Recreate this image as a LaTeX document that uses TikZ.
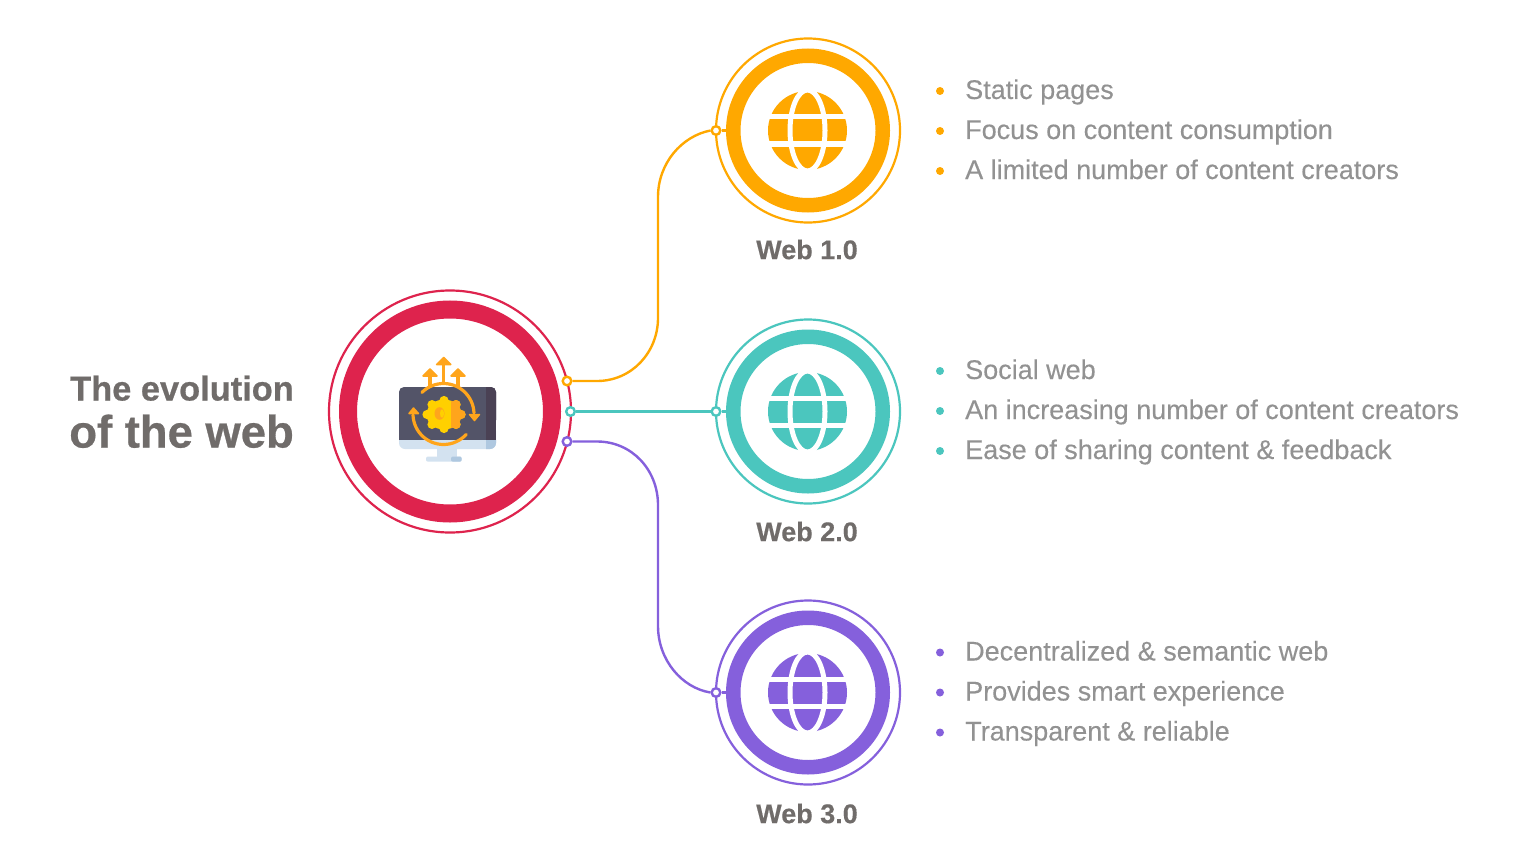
\documentclass[tikz,border=0pt]{standalone}
\usepackage{fontspec}
\setmainfont{Liberation Sans}
\definecolor{cOr}{HTML}{FFA800}
\definecolor{cTe}{HTML}{4BC6BE}
\definecolor{cPu}{HTML}{8560DC}
\definecolor{cRe}{HTML}{DE234D}
\definecolor{cTitle}{HTML}{706C6A}
\definecolor{cBody}{HTML}{929292}
\definecolor{cDark}{HTML}{535468}
\definecolor{cDarker}{HTML}{4A4154}
\definecolor{cBez}{HTML}{D3E2F0}
\definecolor{cBez2}{HTML}{AFC8E0}
\definecolor{cYel}{HTML}{FFD000}
\definecolor{cArr}{HTML}{FFA51C}
\tikzset{
 hub/.style={circle,minimum size=#1,inner sep=0,outer sep=0},
 dot/.style={circle,draw=#1,fill=white,line width=2.4pt,minimum size=8.6pt,inner sep=0},
 blt/.style={circle,fill=#1,minimum size=8pt,inner sep=0},
 item/.style={anchor=base west,inner sep=0,text=cBody,font=\fontsize{27}{27}\selectfont\addfontfeature{FakeBold=0.2}},
 wlabel/.style={inner sep=0,text=cTitle,font=\bfseries\fontsize{27}{27}\selectfont\addfontfeature{FakeBold=0.4}},
 link/.style={draw=#1,line width=2.4pt},
 arrowline/.style={draw=cArr,line width=3.2pt},
 tip/.style={fill=cArr,draw=cArr,line width=1.5pt,line join=round}
}
\newcommand{\webring}[6]{%
 \node[hub=184pt,draw=#2,line width=2.2pt,fill=white] (#1) at (#3,#4) {};
 \node[hub=149.5pt,draw=#2,line width=14.5pt] (#1in) at (#3,#4) {};
 \begin{scope}[shift={(#3,#4)}]
  \fill[#2] (-0.5,0) circle[radius=39.5];
  \draw[white,line width=5pt] (-41,-13.5) -- (40,-13.5) (-41,13.5) -- (40,13.5);
  \draw[white,line width=5pt] (-0.5,0) ellipse[x radius=17.5,y radius=40.5];
 \end{scope}
 \node[wlabel] (#1lab) at (#3-1,#6) {#5};
}
\newcommand{\geartooth}[1]{%
 \foreach \a in {0,45,...,315}{\fill[#1] ({444+17*cos(\a)},{414.5+14*sin(\a)}) circle[radius=4.6];}
 \fill[#1] (444,414.5) ellipse[x radius=17.5,y radius=15];
}
\begin{document}
\begin{tikzpicture}[x=1pt,y=-1pt]
\useasboundingbox (0,0) rectangle (1536,864);
\fill[white] (0,0) rectangle (1536,864);

\webring{wa}{cOr}{808}{130.5}{Web 1.0}{249.5}
\webring{wb}{cTe}{808}{411.5}{Web 2.0}{531.5}
\webring{wc}{cPu}{808}{692.5}{Web 3.0}{813.5}

% hub
\node[hub=242pt,draw=cRe,line width=2.2pt,fill=white] (hubouter) at (450,411.5) {};
\node[hub=204pt,draw=cRe,line width=18pt] (hubinner) at (450,411.5) {};

\node[dot=cOr] (oa) at (567,381) {};
\node[dot=cTe] (ob) at (570.5,411.5) {};
\node[dot=cPu] (oc) at (567,441.5) {};
\node[dot=cOr] (ia) at (716,130.5) {};
\node[dot=cTe] (ib) at (716,411.5) {};
\node[dot=cPu] (ic) at (716,692.5) {};

\draw[link=cOr] (oa.east) -- (597,381) .. controls (632,381) and (658,352) .. (658,318) -- (658,197) .. controls (658,163) and (682,136) .. (ia.west);
\draw[link=cTe] (ob.east) -- (ib.west);
\draw[link=cPu] (oc.east) -- (597,441.5) .. controls (632,441.5) and (658,470) .. (658,505) -- (658,626) .. controls (658,660) and (682,688) .. (ic.west);
\draw[link=cOr] (ia.east) -- (wain.west);
\draw[link=cTe] (ib.east) -- (wbin.west);
\draw[link=cPu] (ic.east) -- (wcin.west);

% monitor icon
\fill[cBez,rounded corners=6pt] (399,425) rectangle (496,449);
\begin{scope}
 \clip (486,440) rectangle (497,450);
 \fill[cBez2,rounded corners=6pt] (399,425) rectangle (496,449);
\end{scope}
\fill[cDark,rounded corners=5pt] (399,387) rectangle (496,425);
\fill[cDark] (399,410) rectangle (496,440);
\begin{scope}
 \clip (486,385) rectangle (497,441);
 \fill[cDarker,rounded corners=5pt] (399,387) rectangle (496,425);
 \fill[cDarker] (399,410) rectangle (496,440);
\end{scope}
\fill[cBez] (436.7,449) rectangle (456.7,457);
\fill[cBez,rounded corners=2pt] (426,456.5) rectangle (461.7,461.7);
\fill[cBez2,rounded corners=2pt] (451,456.5) rectangle (461.7,461.7);
% gear
\geartooth{cYel}
\begin{scope}
 \clip (451,390) rectangle (470,438);
 \geartooth{cArr}
\end{scope}
\fill[cArr] (439.5,413.5) ellipse[x radius=5,y radius=6.3];
\fill[cYel] (442,413.5) ellipse[x radius=2,y radius=4.2];
% circular arrows
\draw[arrowline,line cap=round] plot[smooth,domain=-135:-2,samples=24] ({443.5+30.5*cos(\x)},{414+30.5*sin(\x)});
\fill[tip] (469.5,414.5) -- (479.5,414.5) -- (474.5,420.5) -- cycle;
\draw[arrowline,line cap=round] plot[smooth,domain=42:178,samples=24] ({443.5+30.5*cos(\x)},{414+30.5*sin(\x)});
\fill[tip] (409,413.5) -- (418.5,413.5) -- (413.5,408) -- cycle;
% up arrows
\draw[arrowline] (443.7,364) -- (443.7,382);
\fill[tip] (443.7,357.5) -- (450.8,364.5) -- (436.6,364.5) -- cycle;
\draw[arrowline] (430,376) -- (430,386.5);
\fill[tip] (430,369) -- (437,376) -- (423,376) -- cycle;
\draw[arrowline] (458,376) -- (458,386.5);
\fill[tip] (458,369) -- (465,376) -- (451,376) -- cycle;

% title
\node[anchor=base east,inner sep=0,text=cTitle,font=\bfseries\fontsize{34.4}{34}\selectfont\addfontfeature{FakeBold=0.6}] (t1) at (294,400.5) {The evolution};
\node[anchor=base east,inner sep=0,text=cTitle,font=\bfseries\fontsize{45.4}{45}\selectfont\addfontfeature{FakeBold=0.6}] (t2) at (294,447.5) {of the web};

% bullet lists
\foreach \n/\c/\y/\t in {
 a1/cOr/90/Static pages, a2/cOr/130/Focus on content consumption, a3/cOr/170/A limited number of content creators,
 b1/cTe/370/Social web, b2/cTe/410/An increasing number of content creators, b3/cTe/450/Ease of sharing content \& feedback,
 c1/cPu/651.5/Decentralized \& semantic web, c2/cPu/691.5/Provides smart experience, c3/cPu/731.5/Transparent \& reliable}{
 \node[blt=\c] (bl\n) at (940,\y+1) {};
 \node[item] (tx\n) at (965,\y+9) {\t};
}
\end{tikzpicture}
\end{document}
